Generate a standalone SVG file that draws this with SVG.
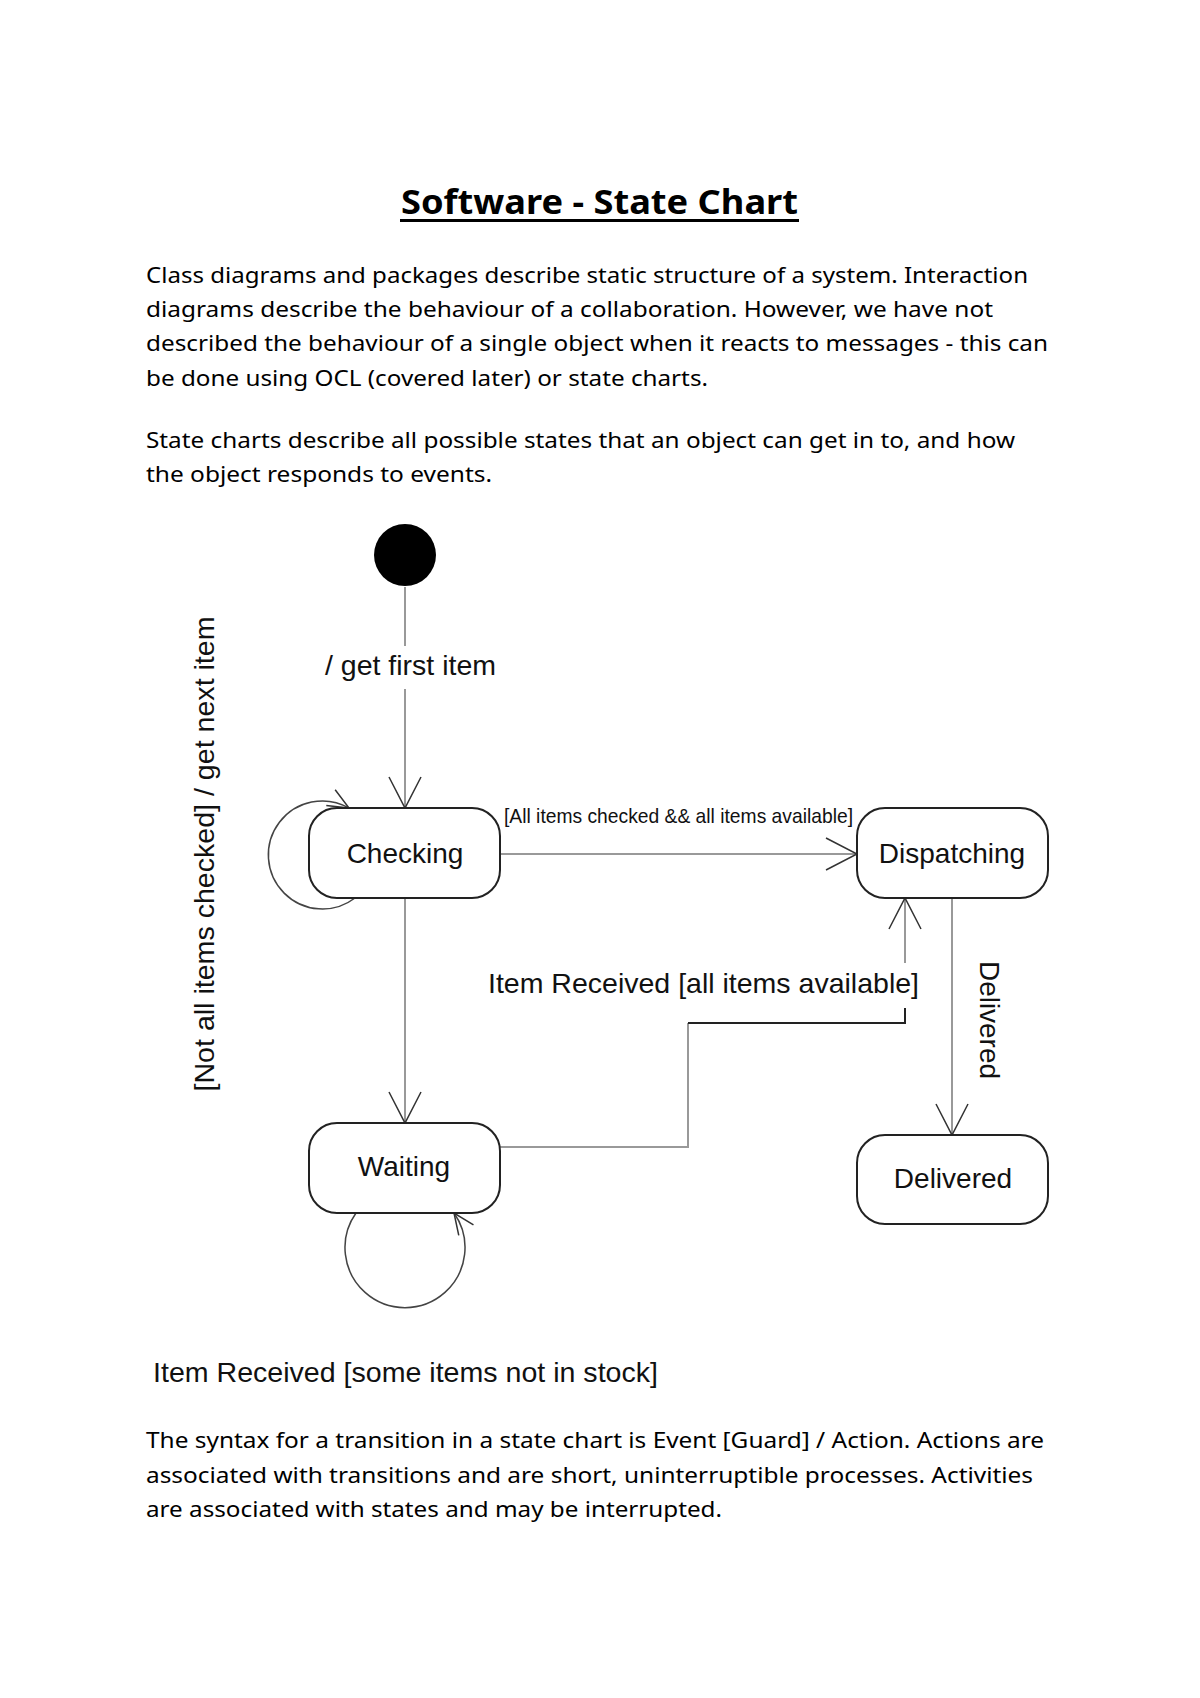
<svg xmlns="http://www.w3.org/2000/svg" width="1200" height="1698" viewBox="0 0 1200 1698">
<style>
.body{font-family:"Noto Sans","Liberation Sans",sans-serif;font-size:21px;fill:#000}
.title{font-family:"Noto Sans","Liberation Sans",sans-serif;font-size:34px;font-weight:bold;fill:#000}
.lbl{font-family:"Liberation Sans",Arial,sans-serif;font-size:28px;fill:#111}
.small{font-family:"Liberation Sans",Arial,sans-serif;font-size:21px;fill:#111}
.state{fill:#fff;stroke:#222;stroke-width:2}
.conn{fill:none;stroke:#999;stroke-width:2}
.dark{fill:none;stroke:#222;stroke-width:2}
.loop{fill:none;stroke:#444;stroke-width:1.5}
</style>
<defs>
<marker id="arr" viewBox="0 0 34 34" refX="32" refY="17" markerWidth="34" markerHeight="34" markerUnits="userSpaceOnUse" orient="auto">
<path d="M1,1 L32,17 L1,33" fill="none" stroke="#333" stroke-width="1.5"/>
</marker>
<marker id="arrS" viewBox="0 0 24 20" refX="22" refY="10" markerWidth="24" markerHeight="20" markerUnits="userSpaceOnUse" orient="auto">
<path d="M1,1 L22,10 L1,19" fill="none" stroke="#333" stroke-width="1.5"/>
</marker>
</defs>
<rect width="1200" height="1698" fill="#fff"/>

<g id="title">
<text class="title" x="401" y="214" textLength="397" lengthAdjust="spacingAndGlyphs">Software - State Chart</text>
<line x1="400" y1="220.5" x2="799" y2="220.5" stroke="#000" stroke-width="3"/>
</g>

<g id="intro">
<text class="body" x="146" y="283" textLength="882" lengthAdjust="spacingAndGlyphs">Class diagrams and packages describe static structure of a system. Interaction</text>
<text class="body" x="146" y="317" textLength="847" lengthAdjust="spacingAndGlyphs">diagrams describe the behaviour of a collaboration. However, we have not</text>
<text class="body" x="146" y="351" textLength="902" lengthAdjust="spacingAndGlyphs">described the behaviour of a single object when it reacts to messages - this can</text>
<text class="body" x="146" y="386" textLength="562" lengthAdjust="spacingAndGlyphs">be done using OCL (covered later) or state charts.</text>
<text class="body" x="146" y="448" textLength="869" lengthAdjust="spacingAndGlyphs">State charts describe all possible states that an object can get in to, and how</text>
<text class="body" x="146" y="482" textLength="346" lengthAdjust="spacingAndGlyphs">the object responds to events.</text>
</g>

<g id="connectors">
<line class="conn" x1="405" y1="587" x2="405" y2="646"/>
<line class="conn" x1="405" y1="689" x2="405" y2="808" marker-end="url(#arr)"/>
<line class="conn" x1="500" y1="854" x2="857" y2="854" marker-end="url(#arr)"/>
<line class="conn" x1="405" y1="898" x2="405" y2="1123" marker-end="url(#arr)"/>
<path class="conn" d="M500,1147 H688 V1023"/>
<path class="dark" d="M688,1023 H905 V1008"/>
<line class="conn" x1="905" y1="963" x2="905" y2="898" marker-end="url(#arr)"/>
<line class="conn" x1="952" y1="898" x2="952" y2="1135" marker-end="url(#arr)"/>
<path class="loop" d="M355,898 A54,54 0 1 1 349,808" marker-end="url(#arrS)"/>
<path class="loop" d="M356,1213 A60,60 0 1 0 454,1213" marker-end="url(#arrS)"/>
</g>

<g id="initial">
<circle cx="405" cy="555" r="31" fill="#000"/>
</g>

<g id="checking">
<rect class="state" x="309" y="808" width="191" height="90" rx="28"/>
<text class="lbl" x="405" y="863" text-anchor="middle">Checking</text>
</g>
<g id="dispatching">
<rect class="state" x="857" y="808" width="191" height="90" rx="28"/>
<text class="lbl" x="952" y="863" text-anchor="middle">Dispatching</text>
</g>
<g id="waiting">
<rect class="state" x="309" y="1123" width="191" height="90" rx="28"/>
<text class="lbl" x="404" y="1176" text-anchor="middle">Waiting</text>
</g>
<g id="delivered">
<rect class="state" x="857" y="1135" width="191" height="89" rx="28"/>
<text class="lbl" x="953" y="1188" text-anchor="middle">Delivered</text>
</g>

<g id="labels">
<text class="lbl" x="325" y="675" textLength="171" lengthAdjust="spacingAndGlyphs">/ get first item</text>
<text class="small" x="504" y="823" textLength="349" lengthAdjust="spacingAndGlyphs">[All items checked &amp;&amp; all items available]</text>
<text class="lbl" x="488" y="993" textLength="431" lengthAdjust="spacingAndGlyphs">Item Received [all items available]</text>
<text class="lbl" transform="translate(980,1020) rotate(90)" text-anchor="middle" textLength="118" lengthAdjust="spacingAndGlyphs">Delivered</text>
<text class="lbl" transform="translate(214,854) rotate(-90)" text-anchor="middle" textLength="475" lengthAdjust="spacingAndGlyphs">[Not all items checked] / get next item</text>
<text class="lbl" x="153" y="1382" font-size="26" textLength="505" lengthAdjust="spacingAndGlyphs">Item Received [some items not in stock]</text>
</g>

<g id="outro">
<text class="body" x="146" y="1448" textLength="898" lengthAdjust="spacingAndGlyphs">The syntax for a transition in a state chart is Event [Guard] / Action. Actions are</text>
<text class="body" x="146" y="1483" textLength="887" lengthAdjust="spacingAndGlyphs">associated with transitions and are short, uninterruptible processes. Activities</text>
<text class="body" x="146" y="1517" textLength="576" lengthAdjust="spacingAndGlyphs">are associated with states and may be interrupted.</text>
</g>
</svg>
